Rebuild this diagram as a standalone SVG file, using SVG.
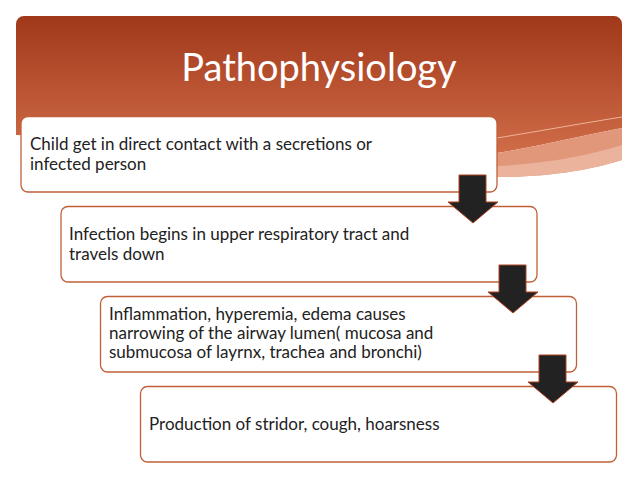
<svg xmlns="http://www.w3.org/2000/svg" width="638" height="478" viewBox="0 0 638 478">
<defs>
<linearGradient id="hg" x1="0" y1="0" x2="0" y2="1">
<stop offset="0" stop-color="#A0381A"/>
<stop offset="1" stop-color="#D06C48"/>
</linearGradient>
</defs>
<style>
.box{fill:#fff;stroke:#C0603A;stroke-width:1.3}
.t{font-family:Lato,"Open Sans",sans-serif;font-size:17px;fill:#222}
.arr{fill:#222;stroke:#B0421F;stroke-width:1}
</style>
<rect width="638" height="478" fill="#fff"/>
<g id="header">
<path d="M16,24 A8,8 0 0 1 24,16 H614 A8,8 0 0 1 622,24 V128 C580,136 540,146 497,153 L16,135 Z" fill="url(#hg)"/>
<path d="M622,128 V160 C590,170 550,177 497,177 L497,153 C540,146 580,136 622,128 Z" fill="#E0977A"/>
<path d="M622,145 V160 C590,170 550,177 497,177 L497,166 C545,164 590,155 622,145 Z" fill="#EBB29C"/>
<path d="M497,138 C540,131 590,122 622,117" fill="none" stroke="#EDB49C" stroke-width="1"/>
<text x="319" y="81" text-anchor="middle" font-family="Lato,'Open Sans',sans-serif" font-size="38" fill="#fff">Pathophysiology</text>
</g>
<g id="node1">
<rect class="box" x="21" y="116.5" width="476" height="75.5" rx="7"/>
<text class="t" x="30" y="150">Child get in direct contact with a secretions or</text>
<text class="t" x="30" y="170">infected person</text>
</g>
<g id="node2">
<rect class="box" x="61" y="206.5" width="476" height="75.5" rx="7"/>
<text class="t" x="69" y="240">Infection begins in upper respiratory tract and</text>
<text class="t" x="69" y="260">travels down</text>
</g>
<g id="node3">
<rect class="box" x="100.5" y="296.5" width="476" height="75.5" rx="7"/>
<text class="t" x="109" y="320">Inflammation, hyperemia, edema causes</text>
<text class="t" x="109" y="339">narrowing of the airway lumen( mucosa and</text>
<text class="t" x="109" y="358">submucosa of layrnx, trachea and bronchi)</text>
</g>
<g id="node4">
<rect class="box" x="140.5" y="386.5" width="476" height="75.5" rx="7"/>
<text class="t" x="149" y="430">Production of stridor, cough, hoarsness</text>
</g>
<g id="connectors">
<path class="arr" d="M459,175 H486 V202 H498 L473,223 L448,202 H459 Z"/>
<path class="arr" d="M499,265 H526 V292 H538 L513,313 L488,292 H499 Z"/>
<path class="arr" d="M539,355 H566 V382 H578 L553,403 L528,382 H539 Z"/>
</g>
</svg>
